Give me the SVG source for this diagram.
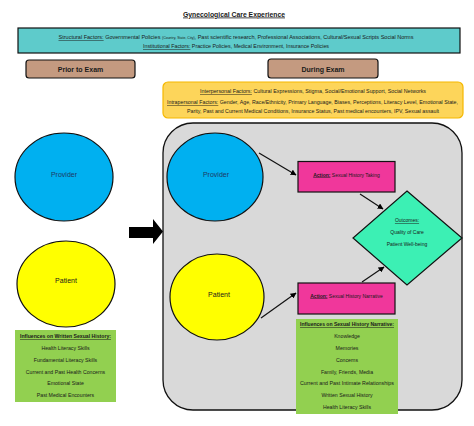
<svg xmlns="http://www.w3.org/2000/svg" width="474" height="426" viewBox="0 0 474 426">
<defs>
<marker id="ah" viewBox="0 0 10 10" refX="9" refY="5" markerWidth="5" markerHeight="5" orient="auto"><path d="M0,0L10,5L0,10z" fill="#000"/></marker>
<style>
text{font-family:"Liberation Sans","DejaVu Sans",sans-serif;fill:#1a1a1a;text-anchor:middle}
.u{text-decoration:underline}
.b{font-weight:bold}
.s{font-size:5px}
.g{font-size:5.2px}
.ell{stroke:#111;stroke-width:1.2}
.conn{stroke:#111;stroke-width:1.2;fill:none;marker-end:url(#ah)}
.act{fill:#f0379b;stroke:#111;stroke-width:1.2}
.grn{fill:#92d050}
</style>
</defs>
<rect width="474" height="426" fill="#fff"/>
<g id="title"><text x="234" y="16.5" class="b u" font-size="8" textLength="102" lengthAdjust="spacingAndGlyphs">Gynecological Care Experience</text></g>
<g id="structural">
<rect x="18" y="28" width="442" height="25" fill="#5ecbcb" stroke="#111" stroke-width="1.2"/>
<text x="236" y="39" class="s" textLength="355" lengthAdjust="spacingAndGlyphs"><tspan class="u">Structural Factors:</tspan> Governmental  Policies <tspan font-size="3.2">(Country, State, City)</tspan>, Past scientific research, Professional Associations, Cultural/Sexual Scripts  Social Norms</text>
<text x="236" y="48" class="s" textLength="186" lengthAdjust="spacingAndGlyphs"><tspan class="u">Institutional  Factors:</tspan> Practice Policies, Medical Environment, Insurance Policies</text>
</g>
<g id="prior">
<rect x="26" y="60" width="109" height="18" rx="3" fill="#c49a80" stroke="#111" stroke-width="1.2"/>
<text x="80.5" y="72" class="b" font-size="7">Prior to Exam</text>
</g>
<g id="during">
<rect x="268" y="59" width="110" height="19" rx="3" fill="#c49a80" stroke="#111" stroke-width="1.2"/>
<text x="323" y="71.5" class="b" font-size="7">During Exam</text>
</g>
<g id="personal">
<rect x="163" y="82" width="300" height="36" rx="5" fill="#fdd55a" stroke="#f5b800" stroke-width="1.2"/>
<text x="313" y="93" class="s" textLength="226" lengthAdjust="spacingAndGlyphs"><tspan class="u">Interpersonal Factors:</tspan>  Cultural Expressions,  Stigma, Social/Emotional Support, Social Networks</text>
<text x="312.5" y="104" class="s" textLength="291" lengthAdjust="spacingAndGlyphs"><tspan class="u">Intrapersonal Factors:</tspan> Gender, Age, Race/Ethnicity, Primary Language, Biases, Perceptions,  Literacy Level, Emotional State,</text>
<text x="313" y="113" class="s" textLength="252" lengthAdjust="spacingAndGlyphs">Parity, Past and Current Medical Conditions, Insurance Status, Past medical encounters, IPV, Sexual assault</text>
</g>
<g id="exam-frame"><rect x="163" y="123" width="299" height="287" rx="30" fill="#d9d9d9" stroke="#111" stroke-width="1.3"/></g>
<g id="provider-prior">
<ellipse cx="64" cy="177" rx="49" ry="44" fill="#00b0f0" class="ell"/>
<text x="64" y="177" font-size="7" style="fill:#1f3864">Provider</text>
</g>
<g id="patient-prior">
<ellipse cx="66" cy="284" rx="49" ry="43" fill="#ffff00" class="ell"/>
<text x="66" y="283" font-size="7">Patient</text>
</g>
<g id="big-arrow"><path d="M129,227H153V219L163,231.5L153,244V238H129z" fill="#000"/></g>
<g id="provider-during">
<ellipse cx="215" cy="177" rx="48" ry="44" fill="#00b0f0" class="ell"/>
<text x="216" y="177" font-size="7" style="fill:#1f3864">Provider</text>
</g>
<g id="patient-during">
<ellipse cx="217" cy="297" rx="47" ry="43" fill="#ffff00" class="ell"/>
<text x="219" y="297" font-size="7">Patient</text>
</g>
<g id="action-taking">
<rect x="298" y="161.5" width="97" height="30.5" class="act"/>
<text x="346.5" y="176.5" class="s"><tspan class="b u">Action:</tspan>  Sexual History Taking</text>
</g>
<g id="action-narrative">
<rect x="298" y="283" width="97" height="31" class="act"/>
<text x="346.5" y="297.5" class="s"><tspan class="b u">Action:</tspan>  Sexual History Narrative</text>
</g>
<g id="outcomes">
<path d="M407,191L462,238L407,285L353,238z" fill="#3cf0b4" stroke="#111" stroke-width="1.2"/>
<text x="407" y="222" class="s u">Outcomes:</text>
<text x="407" y="234" class="s">Quality of Care</text>
<text x="407" y="245.5" class="s">Patient Well-being</text>
</g>
<g id="connectors">
<line x1="259" y1="153" x2="296" y2="175" class="conn"/>
<line x1="360" y1="194" x2="383" y2="209" class="conn"/>
<line x1="362" y1="282" x2="384" y2="267" class="conn"/>
<line x1="261" y1="318" x2="296" y2="293" class="conn"/>
</g>
<g id="written-influences">
<rect x="15" y="330" width="101" height="72" class="grn"/>
<text x="65.5" y="338" class="g b u" textLength="91" lengthAdjust="spacingAndGlyphs">Influences on Written Sexual History:</text>
<text x="65.5" y="350" class="g">Health Literacy Skills</text>
<text x="65.5" y="361.5" class="g">Fundamental Literacy Skills</text>
<text x="65.5" y="373.5" class="g">Current and Past Health Concerns</text>
<text x="65.5" y="385" class="g">Emotional State</text>
<text x="65.5" y="397" class="g">Past Medical Encounters</text>
</g>
<g id="narrative-influences">
<rect x="296" y="319" width="102" height="95" class="grn"/>
<text x="347" y="326" class="g b u" textLength="94" lengthAdjust="spacingAndGlyphs">Influences on Sexual History Narrative:</text>
<text x="347" y="338" class="g">Knowledge</text>
<text x="347" y="350" class="g">Memories</text>
<text x="347" y="361.5" class="g">Concerns</text>
<text x="347" y="373.5" class="g">Family, Friends, Media</text>
<text x="347" y="385" class="g" textLength="94" lengthAdjust="spacingAndGlyphs">Current and Past Intimate Relationships</text>
<text x="347" y="397" class="g">Written Sexual History</text>
<text x="347" y="409" class="g">Health Literacy Skills</text>
</g>
</svg>
